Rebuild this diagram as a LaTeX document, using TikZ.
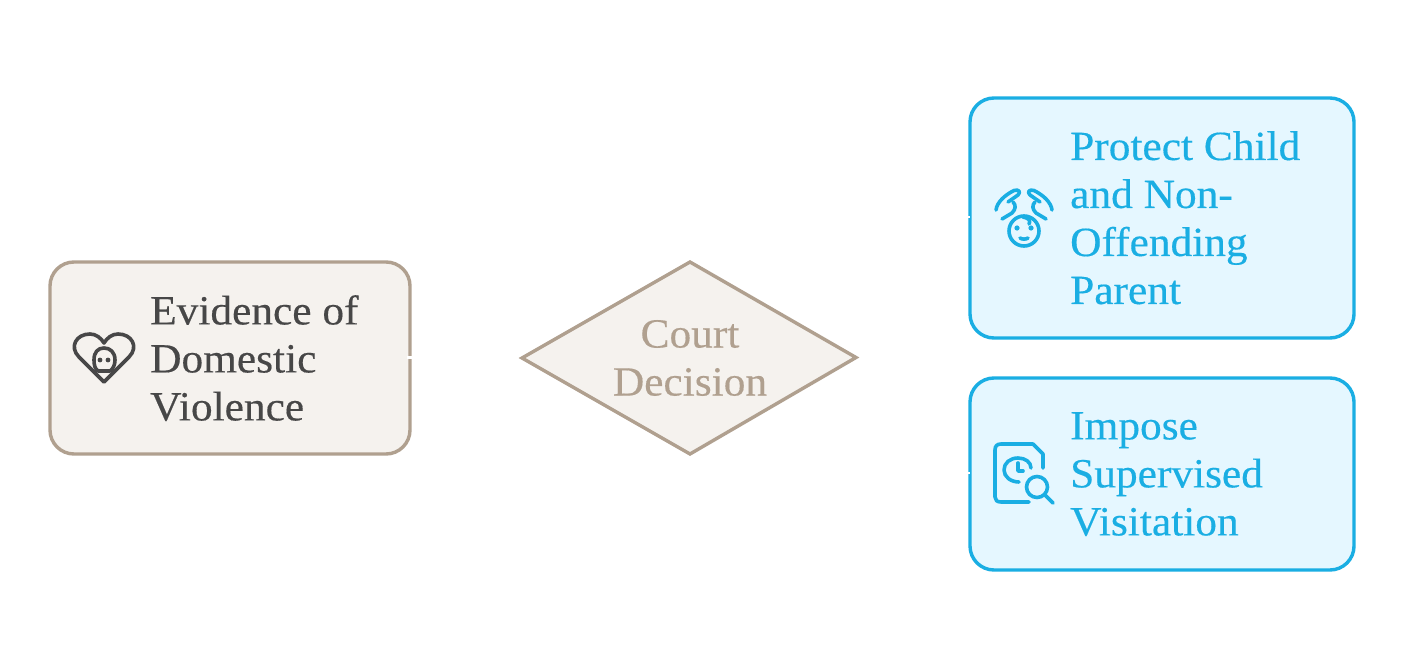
\documentclass[tikz,border=0pt]{standalone}
\usepackage{fontspec}
\setmainfont[FakeStretch=1.045,FakeBold=0.35]{Liberation Serif}
\usetikzlibrary{shapes.geometric}
\definecolor{tan}{HTML}{B0A08F}
\definecolor{tanfill}{HTML}{F5F2EE}
\definecolor{ink}{HTML}{474747}
\definecolor{sky}{HTML}{1AAEE3}
\definecolor{skyfill}{HTML}{E5F7FF}
\tikzset{
  x=1pt,y=-1pt,
  tanbox/.style={draw=tan,fill=tanfill,line width=3.4pt,rounded corners=24pt},
  skybox/.style={draw=sky,fill=skyfill,line width=3.4pt,rounded corners=24pt},
  label/.style={inner sep=0pt,anchor=north west,align=left,font=\fontsize{41.5}{48}\selectfont},
  iconink/.style={draw=ink,line width=3.6pt,line cap=round,line join=round},
  iconsky/.style={draw=sky,line width=3.6pt,line cap=round,line join=round},
}
\begin{document}
\begin{tikzpicture}
\useasboundingbox (0,0) rectangle (1405,668);
\fill[white] (0,0) rectangle (1405,668);
% boxes
\draw[tanbox] (50,262) rectangle (410,454);
\draw[tan,fill=tanfill,line width=3.4pt,line join=miter] (522,358) -- (690,262) -- (856,357.5) -- (690,454) -- cycle;
\draw[skybox] (970,98) rectangle (1354,338);
\draw[skybox] (970,378) rectangle (1354,570);
% text
\node[label,text=ink] (ev) at (150,295) {Evidence of\\Domestic\\Violence};
\node[inner sep=0pt,align=center,text=tan,font=\fontsize{41.5}{48}\selectfont] (cd) at (690,358) {Court\\Decision};
\node[label,text=sky] (pc) at (1070,131) {Protect Child\\and Non-\\Offending\\Parent};
\node[label,text=sky] (im) at (1070,412) {Impose\\Supervised\\Visitation};
% heart icon
\draw[iconink] (104,382) -- (79,357) .. controls (69,347) and (76,334) .. (90,334) .. controls (96,334) and (101,338) .. (104,343) .. controls (107,338) and (112,334) .. (118,334) .. controls (132,334) and (139,347) .. (129,357) -- cycle;
\draw[iconink] (98,371) .. controls (95,369) and (94,365) .. (94,360) .. controls (94,352) and (98,348) .. (104,348) .. controls (110,348) and (115,352) .. (115,360) .. controls (115,365) and (113,369) .. (110,371) -- cycle;
\fill[ink] (100,360) circle (2.4);
\fill[ink] (108,360) circle (2.4);
% baby icon
\draw[iconsky] (1024,231) circle (15);
\draw[iconsky] (1023,217) .. controls (1029,218) and (1031,221) .. (1029,224);
\fill[sky] (1017,228) circle (2.6);
\fill[sky] (1031,228) circle (2.6);
\draw[iconsky] (1020,238) .. controls (1022,239.5) and (1026,239.5) .. (1028,238);
\draw[iconsky] (996,210) .. controls (997,202) and (1005,195) .. (1014,190.5) .. controls (1019,189) and (1021,192) .. (1018,195) -- (1008,202);
\draw[iconsky] (1002,219) -- (1012,213) .. controls (1016,209) and (1016,205) .. (1013,202);
\draw[iconsky] (1052,210) .. controls (1051,202) and (1043,195) .. (1034,190.5) .. controls (1029,189) and (1027,192) .. (1030,195) -- (1040,202);
\draw[iconsky] (1046,219) -- (1036,213) .. controls (1032,209) and (1032,205) .. (1035,202);
% document icon
\draw[iconsky] (1029,502) -- (1001,502) .. controls (997,502) and (995,500) .. (995,497) -- (995,450) .. controls (995,446) and (997,444) .. (1001,444) -- (1033,444) -- (1043,454) -- (1043,468);
\draw[iconsky] (1019,482) .. controls (1011,482) and (1004,477) .. (1004,470) .. controls (1004,463) and (1010,458) .. (1018,458) .. controls (1025,458) and (1031,462) .. (1031,468);
\draw[iconsky] (1018,463) -- (1018,471) -- (1023,471);
\draw[iconsky] (1037,487) circle (10.5);
\draw[iconsky] (1045,495) -- (1053,503);
% small white nicks on the node edges
\fill[white] (407,356) rectangle (413,359);
\fill[white] (967.5,216.5) rectangle (969.5,218.5);
\fill[white] (967.5,472) rectangle (969.5,474);
\end{tikzpicture}
\end{document}
